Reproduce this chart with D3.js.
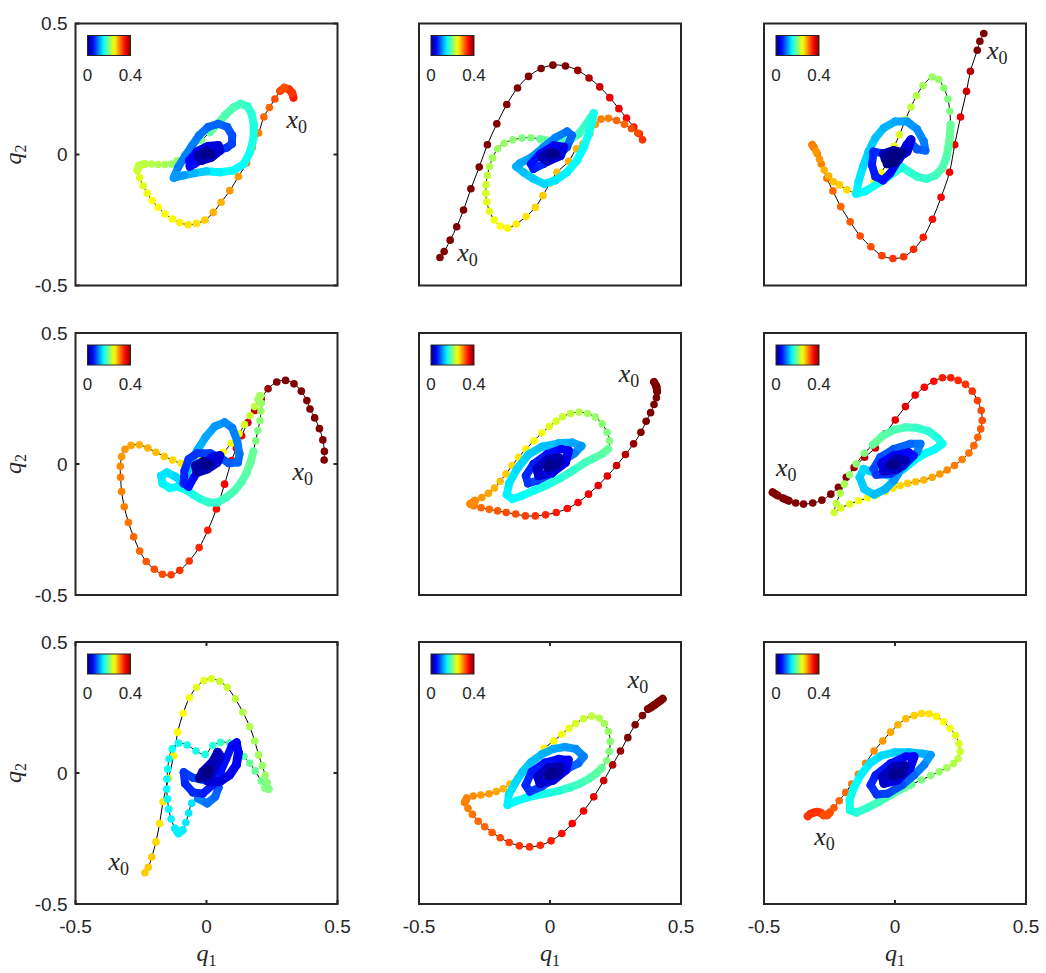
<!DOCTYPE html>
<html>
<head>
<meta charset="utf-8">
<script src="https://cdn.jsdelivr.net/npm/d3@7"></script>
<style>
  body { margin: 0; background: #fff; }
  text { fill: #262626; }
</style>
</head>
<body>
<svg id="chart" width="1046" height="973"></svg>
<script>
// trajectories: [q1, q2, colour value]
const traj1 = [[0.332,0.217,.34],[0.327,0.235,.34],[0.314,0.249,.33],[0.297,0.255,.33],[0.281,0.242,.32],[0.261,0.212,.32],[0.240,0.179,.31],[0.219,0.143,.31],[0.199,0.082,.30],[0.175,0.028,.30],[0.153,-0.032,.30],[0.122,-0.084,.29],[0.089,-0.138,.29],[0.056,-0.182,.28],[0.026,-0.221,.28],[-0.006,-0.250,.27],[-0.038,-0.263,.26],[-0.070,-0.268,.26],[-0.102,-0.260,.255],[-0.130,-0.246,.25],[-0.158,-0.227,.25],[-0.184,-0.202,.25],[-0.207,-0.176,.25],[-0.226,-0.148,.245],[-0.242,-0.119,.24],[-0.255,-0.089,.24],[-0.264,-0.061,.235],[-0.258,-0.042,.23],[-0.236,-0.036,.225],[-0.210,-0.036,.22],[-0.185,-0.038,.22],[-0.159,-0.038,.215],[-0.134,-0.036,.21],[-0.112,-0.023,.21],[-0.083,0.0,.205],[-0.051,0.028,.2],[-0.019,0.054,.2],[0.013,0.085,.195],[0.045,0.120,.19],[0.073,0.152,.185],[0.102,0.179,.18],[0.130,0.194,.18],[0.156,0.184,.175],[0.172,0.156,.17],[0.181,0.111,.165],[0.179,0.060,.16],[0.166,0.009,.16],[0.143,-0.036,.155],[0.102,-0.061,.15],[0.051,-0.068,.15],[0.0,-0.064,.145],[-0.045,-0.071,.13],[-0.089,-0.080,.12],[-0.125,-0.089,.11],[-0.108,-0.048,.11],[-0.083,-0.008,.1],[-0.057,0.031,.1],[-0.028,0.073,.1],[0.006,0.105,.095],[0.045,0.117,.09],[0.079,0.105,.09],[0.098,0.073,.085],[0.097,0.041,.08],[0.077,0.026,.075],[0.038,0.013,.07],[-0.006,-0.010,.065],[-0.045,-0.036,.06],[-0.064,-0.046,.055],[-0.066,-0.023,.05],[-0.038,0.009,.05],[0.006,0.031,.045],[0.045,0.034,.04],[0.051,0.015,.035],[0.019,-0.010,.03],[-0.019,-0.023,.025],[-0.032,-0.004,.02],[0.0,0.013,.015],[0.015,0.003,.01],[-0.006,0.0,.005]];

const traj2 = [[-0.420,-0.393,.42],[-0.404,-0.370,.42],[-0.381,-0.327,.42],[-0.356,-0.276,.42],[-0.330,-0.212,.42],[-0.302,-0.131,.42],[-0.270,-0.048,.42],[-0.239,0.037,.42],[-0.203,0.117,.42],[-0.165,0.191,.42],[-0.124,0.254,.42],[-0.082,0.298,.42],[-0.034,0.328,.41],[0.011,0.341,.41],[0.059,0.338,.40],[0.106,0.321,.39],[0.149,0.292,.38],[0.190,0.258,.37],[0.228,0.217,.36],[0.263,0.175,.36],[0.292,0.139,.35],[0.320,0.105,.34],[0.341,0.079,.34],[0.353,0.056,.33],[0.335,0.082,.32],[0.311,0.099,.32],[0.284,0.115,.31],[0.254,0.130,.31],[0.223,0.138,.30],[0.195,0.135,.30],[0.173,0.115,.29],[0.152,0.079,.29],[0.126,0.041,.285],[0.101,0.022,.28],[0.071,-0.026,.28],[0.027,-0.068,.275],[-0.001,-0.110,.27],[-0.027,-0.157,.27],[-0.056,-0.202,.265],[-0.091,-0.237,.26],[-0.129,-0.265,.255],[-0.162,-0.281,.25],[-0.190,-0.273,.25],[-0.213,-0.250,.245],[-0.231,-0.217,.24],[-0.241,-0.181,.24],[-0.245,-0.148,.235],[-0.244,-0.115,.23],[-0.239,-0.080,.225],[-0.231,-0.046,.22],[-0.219,-0.013,.215],[-0.200,0.022,.21],[-0.175,0.043,.21],[-0.142,0.056,.205],[-0.107,0.063,.2],[-0.073,0.064,.2],[-0.037,0.059,.195],[-0.001,0.051,.19],[0.037,0.043,.185],[0.078,0.056,.18],[0.110,0.079,.18],[0.135,0.111,.175],[0.154,0.140,.17],[0.167,0.158,.17],[0.161,0.124,.16],[0.148,0.079,.16],[0.129,0.028,.155],[0.103,-0.023,.15],[0.065,-0.068,.15],[0.020,-0.099,.145],[-0.022,-0.112,.14],[-0.063,-0.093,.135],[-0.101,-0.068,.13],[-0.129,-0.046,.125],[-0.114,-0.033,.12],[-0.069,-0.010,.115],[-0.024,0.028,.11],[0.020,0.064,.105],[0.065,0.088,.1],[0.084,0.073,.095],[0.065,0.028,.09],[0.027,-0.008,.08],[-0.024,-0.036,.07],[-0.063,-0.055,.065],[-0.073,-0.036,.06],[-0.037,0.003,.055],[0.014,0.034,.05],[0.052,0.028,.045],[0.040,-0.004,.04],[-0.011,-0.026,.03],[-0.031,-0.010,.025],[0.001,0.009,.02],[0.020,0.003,.01],[0.001,-0.001,.005]];

const traj3 = [[0.339,0.462,.42],[0.324,0.432,.41],[0.314,0.398,.40],[0.288,0.318,.38],[0.273,0.241,.37],[0.250,0.143,.36],[0.228,0.037,.36],[0.208,-0.068,.355],[0.176,-0.163,.35],[0.143,-0.247,.345],[0.108,-0.316,.34],[0.071,-0.362,.335],[0.033,-0.390,.33],[-0.008,-0.397,.33],[-0.050,-0.386,.325],[-0.092,-0.352,.32],[-0.133,-0.311,.32],[-0.171,-0.257,.315],[-0.207,-0.199,.31],[-0.237,-0.139,.31],[-0.260,-0.091,.305],[-0.281,-0.036,.3],[-0.296,0.003,.3],[-0.309,0.026,.3],[-0.316,0.037,.3],[-0.301,0.011,.29],[-0.288,-0.018,.29],[-0.270,-0.059,.28],[-0.253,-0.082,.28],[-0.235,-0.104,.275],[-0.212,-0.116,.27],[-0.184,-0.135,.265],[-0.152,-0.145,.26],[-0.105,-0.135,.255],[-0.079,-0.103,.25],[-0.054,-0.071,.25],[-0.024,-0.020,.245],[-0.003,0.031,.24],[0.017,0.075,.235],[0.040,0.133,.23],[0.061,0.181,.225],[0.082,0.224,.22],[0.107,0.263,.215],[0.142,0.296,.21],[0.167,0.286,.21],[0.186,0.254,.205],[0.202,0.212,.2],[0.209,0.165,.2],[0.212,0.114,.195],[0.209,0.069,.19],[0.204,0.028,.19],[0.195,-0.014,.185],[0.180,-0.052,.18],[0.154,-0.080,.18],[0.120,-0.093,.175],[0.084,-0.084,.17],[0.052,-0.065,.17],[0.027,-0.048,.165],[-0.043,-0.097,.16],[-0.114,-0.141,.155],[-0.148,-0.150,.15],[-0.139,-0.103,.145],[-0.122,-0.046,.14],[-0.101,0.011,.135],[-0.075,0.063,.13],[-0.043,0.101,.125],[0.001,0.126,.12],[0.046,0.126,.115],[0.084,0.097,.11],[0.110,0.050,.105],[0.116,0.015,.1],[0.084,0.020,.09],[0.056,0.050,.085],[0.033,0.011,.08],[-0.005,-0.008,.075],[-0.050,0.005,.07],[-0.082,0.011,.07],[-0.088,-0.040,.065],[-0.075,-0.084,.06],[-0.046,-0.099,.06],[-0.018,-0.071,.055],[0.014,-0.020,.05],[0.046,0.037,.045],[0.061,0.056,.04],[0.046,0.011,.035],[0.008,-0.014,.03],[-0.037,-0.018,.025],[-0.043,0.003,.02],[-0.005,0.015,.015],[0.027,0.008,.01],[0.008,-0.001,.005],[-0.022,-0.006,.004],[-0.030,-0.035,.003],[0.000,-0.030,.002],[0.010,0.000,.001]];

const traj4 = [[0.449,0.015,.42],[0.450,0.048,.42],[0.444,0.092,.42],[0.431,0.135,.42],[0.413,0.176,.42],[0.395,0.210,.42],[0.383,0.242,.42],[0.362,0.278,.42],[0.334,0.306,.41],[0.302,0.319,.41],[0.268,0.313,.40],[0.235,0.287,.39],[0.209,0.249,.38],[0.184,0.204,.37],[0.158,0.158,.37],[0.134,0.108,.36],[0.114,0.060,.36],[0.096,0.013,.355],[0.069,-0.077,.35],[0.038,-0.172,.345],[0.005,-0.253,.34],[-0.028,-0.319,.335],[-0.066,-0.370,.33],[-0.102,-0.406,.33],[-0.135,-0.423,.325],[-0.168,-0.421,.32],[-0.199,-0.402,.32],[-0.230,-0.372,.315],[-0.255,-0.332,.31],[-0.278,-0.278,.31],[-0.298,-0.223,.305],[-0.314,-0.163,.3],[-0.324,-0.105,.3],[-0.328,-0.051,.3],[-0.329,-0.009,.295],[-0.324,0.028,.29],[-0.311,0.056,.29],[-0.288,0.071,.285],[-0.256,0.073,.28],[-0.224,0.061,.28],[-0.193,0.045,.275],[-0.161,0.029,.27],[-0.129,0.015,.265],[-0.097,0.003,.26],[-0.059,0.006,.255],[-0.020,0.015,.255],[0.022,0.026,.25],[0.064,0.045,.25],[0.094,0.079,.245],[0.124,0.115,.24],[0.145,0.151,.235],[0.166,0.185,.23],[0.184,0.219,.225],[0.198,0.247,.22],[0.205,0.260,.215],[0.209,0.232,.21],[0.208,0.202,.21],[0.204,0.166,.205],[0.196,0.128,.2],[0.188,0.089,.2],[0.179,0.048,.195],[0.168,0.006,.19],[0.152,-0.036,.19],[0.133,-0.070,.185],[0.107,-0.102,.18],[0.075,-0.128,.18],[0.041,-0.147,.175],[0.009,-0.147,.17],[-0.023,-0.134,.17],[-0.051,-0.117,.165],[-0.077,-0.099,.16],[-0.110,-0.087,.155],[-0.140,-0.092,.15],[-0.168,-0.074,.15],[-0.173,-0.045,.145],[-0.151,-0.032,.14],[-0.119,-0.048,.14],[-0.089,-0.074,.135],[-0.061,0.0,.13],[-0.036,0.051,.125],[-0.004,0.102,.12],[0.031,0.143,.115],[0.069,0.159,.11],[0.098,0.138,.105],[0.117,0.089,.1],[0.126,0.038,.1],[0.120,0.006,.095],[0.085,0.003,.09],[0.054,0.023,.085],[0.015,0.041,.08],[-0.036,0.041,.075],[-0.068,0.019,.07],[-0.084,-0.026,.07],[-0.087,-0.074,.065],[-0.068,-0.087,.06],[-0.048,-0.051,.055],[-0.023,-0.013,.05],[0.022,0.026,.045],[0.051,0.032,.04],[0.041,0.006,.035],[0.003,-0.019,.03],[-0.036,-0.032,.025],[-0.042,-0.006,.02],[-0.010,0.010,.015],[0.009,0.0,.01],[-0.008,-0.006,.005]];

const traj5 = [[0.397,0.313,.42],[0.406,0.296,.42],[0.409,0.277,.42],[0.406,0.253,.42],[0.397,0.227,.42],[0.384,0.196,.42],[0.367,0.163,.41],[0.347,0.121,.40],[0.319,0.077,.39],[0.288,0.036,.38],[0.254,-0.006,.37],[0.219,-0.046,.36],[0.184,-0.082,.36],[0.147,-0.115,.355],[0.107,-0.147,.35],[0.066,-0.170,.345],[0.024,-0.185,.34],[-0.017,-0.194,.335],[-0.056,-0.198,.33],[-0.094,-0.198,.325],[-0.131,-0.191,.32],[-0.167,-0.185,.32],[-0.200,-0.179,.315],[-0.232,-0.173,.31],[-0.263,-0.167,.31],[-0.291,-0.158,.305],[-0.304,-0.152,.3],[-0.286,-0.140,.295],[-0.260,-0.128,.29],[-0.235,-0.112,.285],[-0.212,-0.092,.28],[-0.190,-0.066,.275],[-0.168,-0.038,.27],[-0.145,-0.006,.265],[-0.120,0.026,.26],[-0.092,0.057,.255],[-0.061,0.089,.25],[-0.031,0.119,.245],[-0.003,0.143,.24],[0.023,0.163,.235],[0.048,0.180,.23],[0.079,0.193,.225],[0.111,0.198,.22],[0.143,0.193,.215],[0.173,0.179,.21],[0.199,0.153,.205],[0.218,0.121,.2],[0.227,0.089,.2],[0.222,0.057,.195],[0.199,0.038,.19],[0.167,0.022,.185],[0.135,0.006,.18],[0.091,-0.023,.175],[0.040,-0.054,.17],[-0.011,-0.080,.165],[-0.063,-0.102,.16],[-0.107,-0.121,.155],[-0.143,-0.134,.15],[-0.165,-0.117,.15],[-0.156,-0.074,.145],[-0.126,-0.019,.14],[-0.082,0.036,.135],[-0.031,0.066,.13],[0.033,0.079,.125],[0.084,0.082,.12],[0.120,0.069,.115],[0.094,0.041,.11],[0.056,0.015,.1],[0.008,-0.036,.09],[-0.050,-0.064,.08],[-0.084,-0.074,.075],[-0.092,-0.045,.07],[-0.063,0.0,.065],[-0.011,0.038,.06],[0.043,0.057,.055],[0.071,0.051,.05],[0.059,0.006,.045],[0.008,-0.032,.04],[-0.043,-0.045,.035],[-0.050,-0.019,.03],[-0.005,0.019,.025],[0.036,0.023,.02],[0.027,-0.003,.015],[-0.008,-0.013,.01],[0.001,0.003,.005]];

const traj6 = [[-0.467,-0.108,.42],[-0.448,-0.120,.42],[-0.427,-0.131,.42],[-0.406,-0.140,.42],[-0.379,-0.149,.42],[-0.349,-0.153,.42],[-0.314,-0.149,.42],[-0.279,-0.138,.41],[-0.245,-0.115,.41],[-0.216,-0.089,.40],[-0.186,-0.051,.40],[-0.156,-0.013,.39],[-0.116,0.026,.38],[-0.075,0.061,.37],[-0.037,0.115,.37],[0.001,0.168,.36],[0.040,0.219,.36],[0.077,0.263,.355],[0.112,0.293,.35],[0.148,0.316,.345],[0.181,0.329,.34],[0.213,0.329,.34],[0.241,0.319,.335],[0.269,0.304,.33],[0.295,0.278,.33],[0.315,0.242,.325],[0.329,0.204,.32],[0.333,0.166,.32],[0.327,0.134,.315],[0.316,0.102,.31],[0.301,0.070,.31],[0.282,0.042,.305],[0.256,0.017,.3],[0.227,-0.006,.3],[0.199,-0.023,.295],[0.171,-0.038,.29],[0.142,-0.051,.285],[0.110,-0.061,.28],[0.079,-0.068,.275],[0.048,-0.074,.27],[0.020,-0.082,.265],[-0.008,-0.092,.26],[-0.037,-0.105,.255],[-0.069,-0.117,.25],[-0.105,-0.130,.25],[-0.139,-0.140,.245],[-0.173,-0.153,.24],[-0.207,-0.168,.235],[-0.232,-0.185,.23],[-0.224,-0.151,.225],[-0.209,-0.112,.22],[-0.193,-0.077,.215],[-0.173,-0.041,.21],[-0.148,0.0,.205],[-0.117,0.041,.2],[-0.084,0.074,.195],[-0.046,0.108,.19],[-0.005,0.130,.185],[0.040,0.140,.18],[0.084,0.138,.175],[0.129,0.125,.17],[0.163,0.099,.165],[0.181,0.077,.16],[0.154,0.057,.155],[0.110,0.038,.15],[0.071,0.013,.15],[0.033,-0.019,.145],[-0.018,-0.045,.14],[-0.082,-0.032,.14],[-0.120,-0.019,.135],[-0.135,-0.051,.135],[-0.117,-0.096,.13],[-0.079,-0.117,.13],[-0.037,-0.096,.125],[-0.005,-0.064,.12],[0.040,0.006,.11],[0.084,0.045,.105],[0.097,0.077,.1],[0.059,0.077,.095],[-0.005,0.057,.09],[-0.056,0.026,.085],[-0.082,-0.019,.08],[-0.071,-0.041,.075],[-0.018,-0.038,.07],[0.033,-0.006,.065],[0.071,0.032,.06],[0.052,0.045,.055],[-0.005,0.032,.05],[-0.050,0.003,.045],[-0.043,-0.026,.04],[0.008,-0.019,.03],[0.040,0.013,.025],[0.008,0.019,.02],[-0.018,-0.003,.015],[0.001,-0.003,.005]];

const traj7 = [[-0.235,-0.381,.27],[-0.222,-0.360,.27],[-0.209,-0.321,.27],[-0.193,-0.263,.265],[-0.179,-0.193,.26],[-0.166,-0.110,.26],[-0.145,-0.020,.255],[-0.125,0.066,.255],[-0.110,0.156,.25],[-0.089,0.228,.25],[-0.065,0.288,.245],[-0.038,0.327,.24],[-0.010,0.353,.24],[0.019,0.360,.235],[0.051,0.349,.23],[0.079,0.327,.23],[0.110,0.283,.225],[0.139,0.232,.22],[0.165,0.177,.22],[0.184,0.122,.215],[0.199,0.069,.215],[0.213,0.028,.21],[0.224,-0.008,.21],[0.232,-0.036,.205],[0.237,-0.061,.2],[0.224,-0.056,.2],[0.209,-0.031,.195],[0.186,0.008,.19],[0.165,0.037,.19],[0.143,0.063,.185],[0.120,0.092,.18],[0.088,0.114,.175],[0.054,0.117,.17],[0.024,0.105,.165],[-0.005,0.071,.16],[-0.040,0.084,.158],[-0.074,0.107,.156],[-0.107,0.114,.155],[-0.131,0.092,.154],[-0.143,0.054,.153],[-0.148,0.015,.152],[-0.151,-0.023,.151],[-0.152,-0.061,.15],[-0.149,-0.099,.149],[-0.144,-0.138,.148],[-0.135,-0.176,.147],[-0.120,-0.212,.146],[-0.107,-0.230,.145],[-0.091,-0.218,.144],[-0.079,-0.189,.143],[-0.068,-0.153,.142],[-0.056,-0.115,.14],[-0.033,-0.097,.11],[0.003,-0.116,.1],[0.033,-0.091,.095],[0.046,-0.056,.09],[0.024,-0.036,.085],[-0.052,-0.018,.08],[-0.087,0.003,.075],[-0.082,-0.040,.07],[-0.052,-0.074,.065],[-0.014,-0.078,.065],[0.024,-0.046,.06],[0.054,0.005,.06],[0.075,0.054,.055],[0.097,0.105,.055],[0.115,0.117,.05],[0.122,0.079,.05],[0.114,0.031,.045],[0.088,-0.008,.045],[0.050,-0.033,.04],[0.005,-0.031,.035],[0.054,0.063,.03],[0.043,0.079,.03],[0.024,0.043,.025],[-0.014,0.005,.02],[-0.027,-0.020,.015],[0.005,-0.008,.01],[0.011,0.011,.005],[-0.001,0.003,.0]];

const traj8 = [[0.430,0.283,.42],[0.421,0.276,.42],[0.411,0.269,.42],[0.399,0.260,.42],[0.386,0.251,.42],[0.374,0.244,.42],[0.353,0.219,.42],[0.325,0.184,.41],[0.297,0.135,.40],[0.269,0.084,.39],[0.239,0.031,.38],[0.205,-0.029,.37],[0.167,-0.091,.36],[0.128,-0.145,.355],[0.085,-0.193,.35],[0.045,-0.231,.345],[0.004,-0.259,.34],[-0.037,-0.276,.335],[-0.078,-0.282,.33],[-0.117,-0.278,.33],[-0.156,-0.265,.325],[-0.190,-0.247,.32],[-0.221,-0.227,.315],[-0.249,-0.205,.31],[-0.274,-0.184,.31],[-0.296,-0.158,.305],[-0.313,-0.135,.3],[-0.325,-0.112,.3],[-0.318,-0.097,.3],[-0.293,-0.088,.295],[-0.264,-0.084,.29],[-0.233,-0.079,.29],[-0.205,-0.071,.285],[-0.179,-0.060,.28],[-0.153,-0.042,.275],[-0.124,-0.018,.27],[-0.093,0.018,.265],[-0.057,0.056,.26],[-0.022,0.094,.255],[0.014,0.122,.25],[0.045,0.148,.245],[0.073,0.171,.24],[0.098,0.189,.235],[0.128,0.207,.23],[0.159,0.217,.225],[0.188,0.209,.22],[0.208,0.188,.215],[0.223,0.158,.21],[0.230,0.120,.205],[0.226,0.082,.2],[0.216,0.047,.2],[0.198,0.020,.195],[0.175,-0.003,.19],[0.147,-0.023,.185],[0.115,-0.040,.18],[0.077,-0.055,.175],[0.034,-0.068,.17],[-0.006,-0.077,.165],[-0.047,-0.084,.16],[-0.089,-0.094,.155],[-0.128,-0.107,.15],[-0.162,-0.122,.15],[-0.157,-0.082,.145],[-0.134,-0.040,.14],[-0.106,0.003,.135],[-0.073,0.041,.13],[-0.032,0.071,.125],[0.013,0.092,.12],[0.057,0.099,.115],[0.098,0.092,.11],[0.129,0.063,.105],[0.108,0.037,.1],[0.070,0.018,.09],[0.019,-0.020,.085],[-0.032,-0.052,.08],[-0.077,-0.071,.075],[-0.093,-0.046,.07],[-0.070,0.005,.065],[-0.019,0.040,.06],[0.034,0.054,.055],[0.070,0.050,.05],[0.060,0.011,.045],[0.013,-0.027,.04],[-0.038,-0.040,.035],[-0.047,-0.014,.03],[-0.006,0.020,.025],[0.038,0.024,.02],[0.029,-0.003,.015],[-0.006,-0.010,.01],[0.003,0.005,.005]];

const traj9 = [[-0.333,-0.165,.33],[-0.323,-0.156,.33],[-0.310,-0.151,.33],[-0.297,-0.148,.33],[-0.284,-0.152,.33],[-0.272,-0.161,.33],[-0.259,-0.161,.32],[-0.249,-0.151,.32],[-0.233,-0.133,.315],[-0.213,-0.106,.31],[-0.188,-0.074,.31],[-0.165,-0.042,.305],[-0.140,-0.005,.3],[-0.112,0.037,.3],[-0.080,0.084,.295],[-0.047,0.122,.29],[-0.017,0.156,.285],[0.011,0.184,.28],[0.041,0.207,.275],[0.073,0.219,.27],[0.101,0.227,.265],[0.130,0.226,.26],[0.158,0.216,.255],[0.185,0.196,.25],[0.210,0.171,.245],[0.231,0.143,.24],[0.244,0.112,.235],[0.249,0.082,.23],[0.241,0.054,.225],[0.223,0.036,.22],[0.198,0.020,.215],[0.168,0.005,.21],[0.136,-0.010,.205],[0.101,-0.027,.2],[0.063,-0.043,.195],[0.024,-0.061,.19],[-0.017,-0.084,.185],[-0.061,-0.110,.18],[-0.106,-0.133,.175],[-0.147,-0.151,.17],[-0.172,-0.142,.165],[-0.173,-0.103,.16],[-0.157,-0.056,.155],[-0.131,-0.008,.15],[-0.096,0.037,.145],[-0.052,0.066,.14],[-0.001,0.079,.135],[0.054,0.079,.13],[0.105,0.074,.125],[0.136,0.069,.12],[0.111,0.031,.11],[0.073,-0.008,.1],[0.028,-0.046,.09],[-0.027,-0.078,.08],[-0.070,-0.082,.075],[-0.093,-0.046,.07],[-0.074,-0.008,.065],[-0.017,0.037,.06],[0.041,0.063,.055],[0.073,0.063,.05],[0.057,0.018,.045],[0.009,-0.027,.04],[-0.042,-0.040,.035],[-0.048,-0.014,.03],[-0.004,0.024,.025],[0.037,0.028,.02],[0.028,-0.001,.015],[-0.010,-0.010,.01],[0.0,0.005,.005]];

const trajs = [traj1, traj2, traj3, traj4, traj5, traj6, traj7, traj8, traj9];

// colour value under which the dots of a panel run together into a band
const bandBelow = [0.2, 0.2, 0.2, 0.2, 0.2, 0.2, 0.115, 0.2, 0.2];

// where the x0 label sits in each panel (q1, q2 of the label start)
const x0Labels = [[0.305,0.103],[-0.354,-0.408],[0.351,0.366],[0.328,-0.061],[0.262,0.313],[-0.454,-0.046],[-0.374,-0.370],[0.297,0.324],[-0.308,-0.275]];

const tickVals = [-0.5, 0, 0.5];
const tickText = ["-0.5", "0", "0.5"];
const cbTicks = [0, 0.4];
const vMax = 0.4;

const colLeft = [75.5, 419, 764];
const rowTop = [23.5, 333, 642];
const W = 262, H = 262;
const sansFont = "'Liberation Sans', Arial, sans-serif";
const serifFont = "'Liberation Serif', 'Times New Roman', serif";

function jet(v) {
    var t = Math.max(0, Math.min(1, v / vMax));
    var c = function(x) { return Math.max(0, Math.min(1, x)); };
    return d3.rgb(255 * c(1.5 - Math.abs(4 * t - 3)),
                  255 * c(1.5 - Math.abs(4 * t - 2)),
                  255 * c(1.5 - Math.abs(4 * t - 1))).toString();
}

var svg = d3.select("#chart");
var defs = svg.append("defs");

var grad = defs.append("linearGradient").attr("id", "jetgrad");
d3.range(0, 1.0001, 0.05).forEach(function(f) {
    grad.append("stop").attr("offset", f).attr("stop-color", jet(f * vMax));
});

trajs.forEach(function(pts, i) {
    var col = i % 3, row = Math.floor(i / 3);
    var left = colLeft[col], top = rowTop[row];
    var x = d3.scaleLinear().domain([-0.5, 0.5]).range([left, left + W]);
    var y = d3.scaleLinear().domain([-0.5, 0.5]).range([top + H, top]);

    defs.append("clipPath").attr("id", "clip" + i)
        .append("rect").attr("x", left).attr("y", top).attr("width", W).attr("height", H);

    var g = svg.append("g");
    var plot = g.append("g").attr("clip-path", "url(#clip" + i + ")");

    // thin black trajectory
    var line = d3.line().x(d => x(d[0])).y(d => y(d[1])).curve(d3.curveCatmullRom.alpha(0.5));
    plot.append("path").datum(pts).attr("d", line)
        .attr("fill", "none").attr("stroke", "#000").attr("stroke-width", 1);

    // dots in time order; slow or crowded stretches become a band
    pts.forEach(function(d, k) {
        if (k > 0) {
            var p = pts[k - 1];
            var gap = Math.hypot(x(d[0]) - x(p[0]), y(d[1]) - y(p[1]));
            var slow = d[2] < bandBelow[i] && p[2] < bandBelow[i];
            if (slow || gap < 6) {
                plot.append("line")
                    .attr("x1", x(p[0])).attr("y1", y(p[1]))
                    .attr("x2", x(d[0])).attr("y2", y(d[1]))
                    .attr("stroke", jet(d[2])).attr("stroke-width", d[2] < 0.05 ? 9 : 8)
                    .attr("stroke-linecap", "round");
            }
        }
        plot.append("circle").attr("cx", x(d[0])).attr("cy", y(d[1])).attr("r", 3.8)
            .attr("fill", jet(d[2]));
    });

    // box
    g.append("rect").attr("x", left).attr("y", top).attr("width", W).attr("height", H)
        .attr("fill", "none").attr("stroke", "#262626").attr("stroke-width", 2);

    // y ticks on the left column
    if (col === 0) {
        tickVals.forEach(function(t, k) {
            g.append("line").attr("x1", left).attr("x2", left + 4).attr("y1", y(t)).attr("y2", y(t))
                .attr("stroke", "#262626").attr("stroke-width", 2);
            g.append("line").attr("x1", left + W - 4).attr("x2", left + W).attr("y1", y(t)).attr("y2", y(t))
                .attr("stroke", "#262626").attr("stroke-width", 2);
            g.append("text").attr("x", left - 8).attr("y", y(t)).attr("dy", "0.36em")
                .attr("text-anchor", "end")
                .style("font-family", sansFont).style("font-size", "19px")
                .text(tickText[k]);
        });
        var lab = g.append("text")
            .attr("transform", "translate(" + (left - 55) + "," + (top + H / 2) + ") rotate(-90)")
            .attr("text-anchor", "middle")
            .style("font-family", serifFont).style("font-size", "24px");
        lab.append("tspan").style("font-style", "italic").text("q");
        lab.append("tspan").attr("dy", 5).style("font-size", "16px").text("2");
    }
    // x ticks on the bottom row
    if (row === 2) {
        tickVals.forEach(function(t, k) {
            g.append("line").attr("y1", top + H).attr("y2", top + H - 4).attr("x1", x(t)).attr("x2", x(t))
                .attr("stroke", "#262626").attr("stroke-width", 2);
            g.append("line").attr("y1", top).attr("y2", top + 4).attr("x1", x(t)).attr("x2", x(t))
                .attr("stroke", "#262626").attr("stroke-width", 2);
            g.append("text").attr("x", x(t)).attr("y", top + H + 29)
                .attr("text-anchor", "middle")
                .style("font-family", sansFont).style("font-size", "19px")
                .text(tickText[k]);
        });
        var labx = g.append("text").attr("x", left + W / 2).attr("y", top + H + 57)
            .attr("text-anchor", "middle")
            .style("font-family", serifFont).style("font-size", "24px");
        labx.append("tspan").style("font-style", "italic").text("q");
        labx.append("tspan").attr("dy", 5).style("font-size", "16px").text("1");
    }

    // colour bar inset
    var cbx = d3.scaleLinear().domain([0, vMax]).range([left + 12, left + 55]);
    g.append("rect").attr("x", cbx(0)).attr("y", top + 12).attr("width", cbx(vMax) - cbx(0)).attr("height", 20)
        .attr("fill", "url(#jetgrad)").attr("stroke", "#262626").attr("stroke-width", 1);
    cbTicks.forEach(function(t) {
        g.append("text").attr("x", cbx(t)).attr("y", top + 57).attr("text-anchor", "middle")
            .style("font-family", sansFont).style("font-size", "17px")
            .text(t === 0 ? "0" : t.toFixed(1));
    });

    // x0 label
    var xl = g.append("text").attr("x", x(x0Labels[i][0])).attr("y", y(x0Labels[i][1]))
        .style("font-family", serifFont).style("font-size", "26px");
    xl.append("tspan").style("font-style", "italic").text("x");
    xl.append("tspan").attr("dy", 5).style("font-size", "18px").text("0");
});
</script>
</body>
</html>
